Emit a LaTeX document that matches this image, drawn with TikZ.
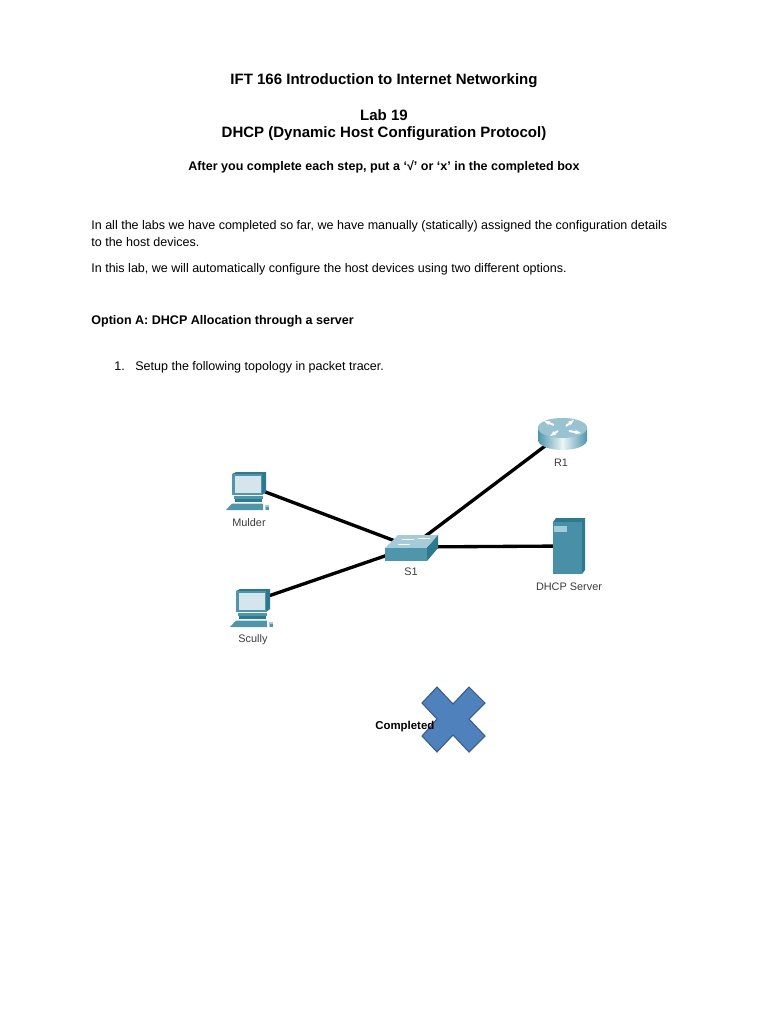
\documentclass[tikz,border=0pt]{standalone}
\usepackage{fontspec}
\setmainfont{Liberation Sans}
\usetikzlibrary{arrows.meta, positioning}
\definecolor{bodyteal}{RGB}{78,150,172}
\definecolor{darkteal}{RGB}{42,122,146}
\definecolor{paleteal}{RGB}{165,203,216}
\definecolor{screenblue}{RGB}{214,228,236}
\definecolor{crossblue}{RGB}{79,129,189}
\definecolor{crossline}{RGB}{56,93,138}
\definecolor{labelgray}{RGB}{60,60,60}
\tikzset{
  bodytext/.style={anchor=base west, inner sep=0pt, font=\fontsize{7.13pt}{8pt}\selectfont},
  subhead/.style={anchor=base west, inner sep=0pt, font=\fontsize{7.13pt}{8pt}\selectfont\bfseries},
  titletext/.style={anchor=base, inner sep=0pt, font=\fontsize{8.55pt}{10pt}\selectfont\bfseries},
  devlabel/.style={inner sep=0pt, text=labelgray, font=\fontsize{6.2pt}{8pt}\selectfont},
  device/.style={inner sep=0pt, minimum size=2pt},
  link/.style={draw=black, line width=1.9pt},
  routerarrow/.style={white, line width=1.1pt, -{Stealth[length=3.5pt]}},
  hostpc/.pic={
    % monitor, origin at the middle of the screen
    \fill[darkteal] (-15,-11) -- (-11,-13) -- (19,-13) -- (19,7) -- (15,10) -- cycle;
    \fill[bodyteal] (-15,-11) rectangle (15,10);
    \fill[screenblue] (-12,-9) rectangle (14,8);
    \fill[bodyteal] (-13,11) rectangle (16,14);
    \fill[darkteal] (-12,14) rectangle (15,17);
    \fill[bodyteal] (-21,25) -- (-15,18.5) -- (16,18.5) -- (16,25) -- cycle;
    \fill[paleteal] (18,20) rectangle (22,25);
    \fill[bodyteal] (19,22) rectangle (22,25);
  }
}
\begin{document}
\begin{tikzpicture}[x=0.02cm, y=-0.02cm]
  \useasboundingbox (0,0) rectangle (768,1024);
  % header
  \node[titletext] (title) at (384,84.5) {IFT 166 Introduction to Internet Networking};
  \node[titletext] (lab) at (384,120) {Lab 19};
  \node[titletext] (dhcp) at (384,137) {DHCP (Dynamic Host Configuration Protocol)};
  \node[anchor=base, inner sep=0pt, font=\fontsize{7.13pt}{8pt}\selectfont\bfseries] (hint) at (384,171)
    {After you complete each step, put a ‘√’ or ‘x’ in the completed box};
  % body text
  \node[bodytext] (intro1) at (91,229) {In all the labs we have completed so far, we have manually (statically) assigned the configuration details};
  \node[bodytext] (intro2) at (91,246) {to the host devices.};
  \node[bodytext] (intro3) at (91,272) {In this lab, we will automatically configure the host devices using two different options.};
  \node[subhead] (optiona) at (91,324) {Option A: DHCP Allocation through a server};
  \node[bodytext] (num1) at (114,370) {1.};
  \node[bodytext] (step1) at (135,370) {Setup the following topology in packet tracer.};
  % topology
  \node[device] (mulder) at (247,485) {};
  \node[device] (scully) at (251,602) {};
  \node[device] (s1) at (411,547) {};
  \node[device] (r1) at (561,434) {};
  \node[device] (server) at (568,546) {};
  \draw[link] (mulder) -- (s1);
  \draw[link] (scully) -- (s1);
  \draw[link] (r1) -- (s1);
  \draw[link] (server) -- (s1);
  \pic at (mulder) {hostpc};
  \pic at (scully) {hostpc};
  % switch
  \fill[paleteal] (398,535) -- (438,535) -- (427,548) -- (385,548) -- cycle;
  \fill[bodyteal] (385,548) rectangle (427,561);
  \fill[darkteal] (427,548) -- (438,535) -- (438,548) -- (427,561) -- cycle;
  \draw[white, line width=0.5pt] (402,539) -- (414,539) (418,538) -- (430,538) (398,544) -- (410,544);
  % router
  \shade[left color=bodyteal, right color=bodyteal, middle color=white!80!paleteal]
    (538,428) -- (538,440) arc[start angle=180, end angle=0, x radius=24.5, y radius=10]
    -- (587,428) arc[start angle=0, end angle=-180, x radius=24.5, y radius=10] -- cycle;
  \fill[paleteal!85!bodyteal] (562.5,428) ellipse[x radius=24.5, y radius=10];
  \draw[routerarrow] (554,425) -- (544,421);
  \draw[routerarrow] (569,431) -- (581,433);
  \draw[routerarrow] (566,426) -- (574,420);
  \draw[routerarrow] (558,431) -- (550,436);
  % server
  \fill[darkteal] (553,522) -- (556,518) -- (585,518) -- (585,570) -- (582,574) -- cycle;
  \fill[bodyteal!80!darkteal] (553,522) rectangle (582,574);
  \fill[paleteal] (554,526) rectangle (567,532);
  % labels
  \node[devlabel] (mulderlabel) at (249,523) {Mulder};
  \node[devlabel] (scullylabel) at (253,640) {Scully};
  \node[devlabel] (s1label) at (411,572) {S1};
  \node[devlabel] (r1label) at (561,463) {R1};
  \node[devlabel] (serverlabel) at (569,587) {DHCP Server};
  % completed box
  \draw[fill=crossblue, draw=crossline, line width=0.6pt]
    (437,687) -- (453,704) -- (469,687) -- (485,703) -- (469,719) -- (485,736)
    -- (469,752) -- (453,735) -- (437,752) -- (422,736) -- (437,719) -- (422,703) -- cycle;
  \node[anchor=base west, inner sep=0pt, font=\fontsize{6.5pt}{8pt}\selectfont\bfseries] (completed) at (375,729) {Completed};
\end{tikzpicture}
\end{document}
